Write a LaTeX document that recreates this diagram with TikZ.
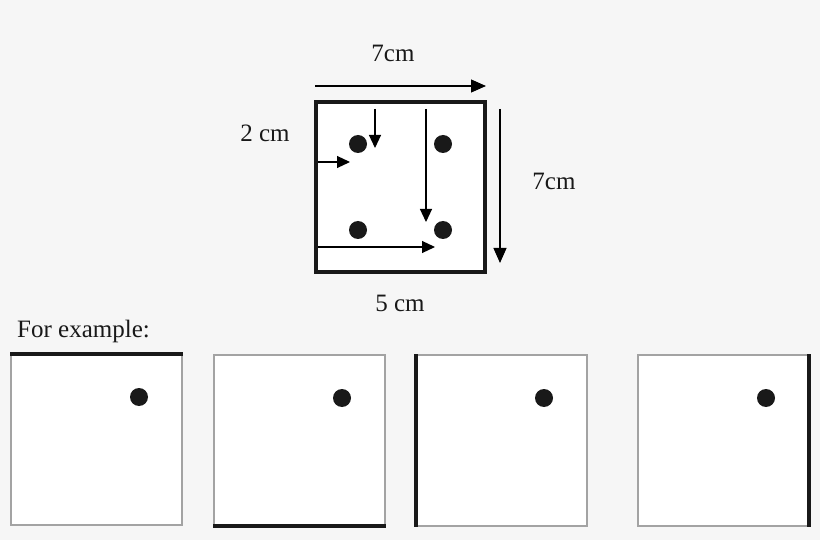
\documentclass[tikz,border=0pt]{standalone}
\usepackage{fontspec}
\setmainfont{Liberation Serif}
\usetikzlibrary{arrows.meta}
\definecolor{bgcol}{HTML}{F6F6F6}
\definecolor{edgegray}{HTML}{A3A3A3}
\tikzset{
  lbl/.style={font=\fontsize{25}{29}\selectfont, inner sep=0pt, text=black!90},
  dimarrow/.style={line width=1.2pt, -{Triangle[length=15pt,width=13pt]}},
  smallarrow/.style={line width=1.2pt, -{Triangle[length=13pt,width=12pt]}},
  thinedge/.style={draw=edgegray, line width=1.5pt},
  thickedge/.style={line width=4pt, draw=black!90},
  dot/.style={fill=black!90}
}
\begin{document}
\begin{tikzpicture}[x=1pt,y=-1pt]
                \fill[bgcol] (0,0) rectangle (820,540);
                \fill[white] (316,102) rectangle (485,272);
                \draw[line width=4pt, black!90] (316,102) rectangle (485,272);
                \draw[dimarrow] (315,86) -- (486,86);
                \draw[dimarrow] (500,109) -- (500,263);
                \draw[smallarrow] (318,162) -- (350,162);
                \draw[smallarrow] (375,109) -- (375,148);
                \draw[smallarrow] (426,109) -- (426,222);
                \draw[smallarrow] (318,247) -- (435,247);
                \foreach \x/\y in {358/144, 443/144, 358/230, 443/230}
                    \fill[dot] (\x,\y) circle (9);
                \node[lbl] (top) at (393,53) {7cm};
                \node[lbl] (side) at (554,181) {7cm};
                \node[lbl] (gap) at (265,133) {2 cm};
                \node[lbl] (base) at (400,303) {5 cm};
                \node[lbl, anchor=west] (ex) at (17,331) {For example:};
                \foreach \x/\y in {11/354, 214/355, 416/355, 638/355} {
                    \fill[white] (\x,\y) rectangle (\x+171,\y+171);
                    \draw[thinedge] (\x,\y) rectangle (\x+171,\y+171);
                    \fill[dot] (\x+128,\y+43) circle (9);
                }
                \draw[thickedge] (10,354) -- (183,354);
                \draw[thickedge] (213,526) -- (386,526);
                \draw[thickedge] (416,354) -- (416,527);
                \draw[thickedge] (809,354) -- (809,527);
            \end{tikzpicture}
\end{document}
